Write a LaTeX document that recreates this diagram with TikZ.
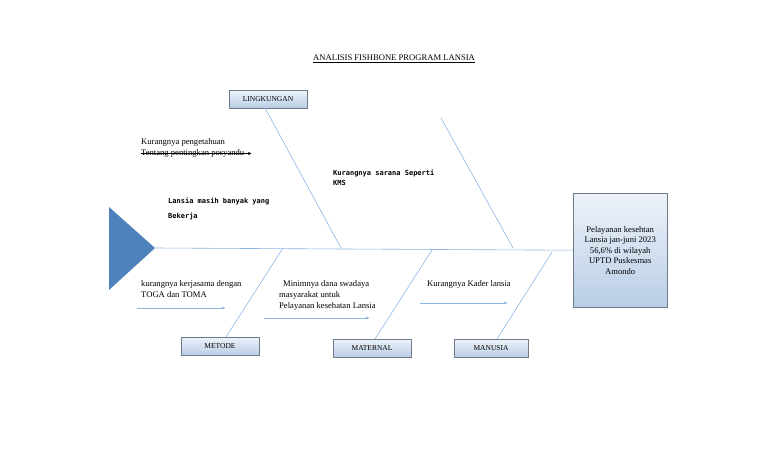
\documentclass[tikz,border=0pt]{standalone}
\usepackage{fontspec}
\setmainfont{Liberation Serif}
\newfontfamily\monof{DejaVu Sans Mono}
\usetikzlibrary{arrows.meta}
\definecolor{bone}{HTML}{8EB4E3}
\definecolor{boxtop}{HTML}{EEF3FA}
\definecolor{boxbot}{HTML}{B9CDE5}
\begin{document}
\begin{tikzpicture}[x=1pt,y=-1pt,
  bonel/.style={draw=bone,line width=0.6pt},
  cat/.style={draw=boxbot!60!black,top color=boxtop,bottom color=boxbot,minimum width=78pt,minimum height=18pt,inner sep=0pt,font=\fontsize{7.5}{8}\selectfont},
  txt/.style={anchor=west,inner sep=0pt,font=\fontsize{8.6}{10}\selectfont,align=left},
  mtxt/.style={anchor=west,inner sep=0pt,font=\monof\bfseries\fontsize{7}{10}\selectfont,align=left},
  carrow/.style={draw=bone,line width=0.6pt,-{Latex[length=4pt,width=3pt]}}]
\useasboundingbox (0,0) rectangle (768,466);
\node[font=\fontsize{8.6}{10}\selectfont] (title) at (394,59) {\underline{ANALISIS FISHBONE PROGRAM LANSIA}};
\fill[fill={rgb,255:red,79;green,129;blue,189}] (109,207) -- (155,248) -- (109,290) -- cycle;
\coordinate (head) at (155,248);
\node[draw=boxbot!60!black,top color=boxtop,bottom color=boxbot,minimum width=94pt,minimum height=114pt,inner sep=0pt,anchor=north west,align=center,font=\fontsize{8.6}{10.5}\selectfont] (eff) at (573,193) {Pelayanan kesehtan\\Lansia jan-juni 2023\\56,6\% di wilayah\\UPTD Puskesmas\\Amondo};
\draw[bonel] (head) -- (eff.west);
\node[cat] (ling) at (268,99) {LINGKUNGAN};
\node[cat] (met) at (220,346) {METODE};
\node[cat] (mat) at (372,348) {MATERNAL};
\node[cat,minimum width=74pt] (man) at (491,348) {MANUSIA};
\coordinate (t2) at (441,118);
\coordinate (j1) at (341,248);
\coordinate (j2) at (513,248);
\coordinate (j3) at (283,248);
\coordinate (j4) at (432,250);
\coordinate (j5) at (552,252);
\draw[bonel] (265,108) -- (j1);
\draw[bonel] (t2) -- (j2);
\draw[bonel] (j3) -- (226,337);
\draw[bonel] (j4) -- (375,339);
\draw[bonel] (j5) -- (497,339);
\node[txt] (a1) at (141,142) {Kurangnya pengetahuan};
\node[txt] (a2) at (141,153) {Tentang pentingkan posyandu};
\draw[line width=0.5pt] ([yshift=-0.5pt]a2.west) -- ([yshift=-0.5pt]a2.east);
\coordinate (a2e) at ([xshift=7pt,yshift=-0.5pt]a2.east);
\draw[-{Latex[length=3pt,width=3pt]}] ([yshift=-0.5pt]a2.east) -- (a2e);
\node[mtxt] (b1) at (333,178) {Kurangnya sarana Seperti\\KMS};
\node[mtxt] (c1) at (168,201) {Lansia masih banyak yang};
\node[mtxt] (c2) at (168,216) {Bekerja};
\node[txt] (d1) at (141,284) {kurangnya kerjasama dengan};
\node[txt] (d2) at (141,295) {TOGA dan TOMA};
\coordinate (d3) at (137,308); \coordinate (d4) at (226,308);
\draw[carrow] (d3) -- (d4);
\node[txt] (e1) at (283,284) {Minimnya dana swadaya};
\node[txt] (e2) at (279,295) {masyarakat untuk};
\node[txt] (e3) at (279,306) {Pelayanan kesehatan Lansia};
\coordinate (e4) at (264,318); \coordinate (e5) at (370,318);
\draw[carrow] (e4) -- (e5);
\node[txt] (f1) at (427,284) {Kurangnya Kader lansia};
\coordinate (f2) at (420,303); \coordinate (f3) at (508,303);
\draw[carrow] (f2) -- (f3);
\end{tikzpicture}
\end{document}
